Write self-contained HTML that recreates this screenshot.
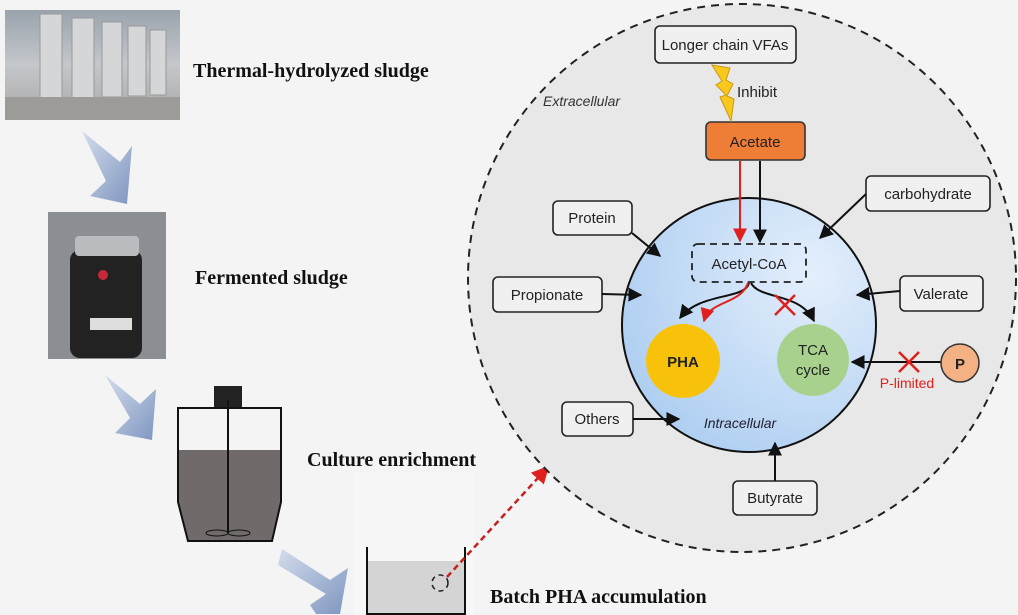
<!DOCTYPE html>
<html><head><style>
html,body{margin:0;padding:0;background:#f4f4f4;}
svg{display:block}
.b{font-family:"Liberation Sans",sans-serif;font-size:15px;fill:#222;}
.t{font-family:"Liberation Serif",serif;font-weight:bold;font-size:20px;fill:#111;}
</style></head><body>
<svg width="1018" height="615" viewBox="0 0 1018 615" xmlns="http://www.w3.org/2000/svg">
<defs>
<radialGradient id="cell" cx="0.75" cy="0.3" r="0.9">
<stop offset="0" stop-color="#e4effc"/><stop offset="1" stop-color="#a9cbf0"/></radialGradient>
<linearGradient id="arr" x1="0" y1="0" x2="1" y2="1"><stop offset="0" stop-color="#d3dcec"/><stop offset="1" stop-color="#7f96c0"/></linearGradient>
<linearGradient id="img1" x1="0" y1="0" x2="0" y2="1"><stop offset="0" stop-color="#9aa3ad"/><stop offset="0.5" stop-color="#c4c7cb"/><stop offset="1" stop-color="#a8a8a6"/></linearGradient>
<marker id="ak" viewBox="0 0 10 10" refX="9" refY="5" markerWidth="7" markerHeight="7" orient="auto"><path d="M0,0 L10,5 L0,10 z" fill="#111"/></marker>
<marker id="ar" viewBox="0 0 10 10" refX="9" refY="5" markerWidth="7" markerHeight="7" orient="auto"><path d="M0,0 L10,5 L0,10 z" fill="#e0201c"/></marker>
</defs>
<rect width="1018" height="615" fill="#f4f4f4"/>
<!-- photos -->
<rect x="5" y="10" width="175" height="110" fill="url(#img1)"/>
<g fill="#d4d6d8" stroke="#999" stroke-width="1">
<rect x="40" y="14" width="22" height="85"/><rect x="72" y="18" width="22" height="80"/><rect x="102" y="22" width="20" height="75"/><rect x="128" y="26" width="18" height="70"/><rect x="150" y="30" width="16" height="65"/></g>
<rect x="5" y="97" width="175" height="23" fill="#9d9b98"/>
<rect x="48" y="212" width="118" height="147" fill="#8b8f93"/>
<rect x="70" y="250" width="72" height="108" rx="10" fill="#222"/>
<rect x="75" y="236" width="64" height="20" rx="4" fill="#b9bcbf"/>
<circle cx="103" cy="275" r="5" fill="#c8283a"/>
<rect x="90" y="318" width="42" height="12" fill="#ddd"/>
<!-- blue arrows -->
<polygon points="82,131 120,162 132,146 127,204 90,196 106,181" fill="url(#arr)"/>
<polygon points="105,375 140,404 156,389 152,440 115,433 130,418" fill="url(#arr)"/>
<polygon points="282,549 330,580 348,568 340,614 316,614 310,605 326,594 278,565" fill="url(#arr)"/>
<!-- reactor -->
<rect x="214" y="386" width="28" height="22" fill="#222"/>
<path d="M178,450 L281,450 L281,502 L272,541 L188,541 L178,502 Z" fill="#716a6a"/>
<path d="M178,408 L281,408 L281,502 L272,541 L188,541 L178,502 Z" fill="none" stroke="#111" stroke-width="2"/>
<line x1="228" y1="400" x2="228" y2="533" stroke="#111" stroke-width="2"/>
<ellipse cx="217" cy="533" rx="11" ry="3" fill="none" stroke="#111"/><ellipse cx="239" cy="533" rx="11" ry="3" fill="none" stroke="#111"/>
<!-- batch -->
<rect x="355" y="472" width="118" height="143" fill="#f7f7f7"/>
<rect x="368" y="561" width="97" height="54" fill="#d4d4d4"/>
<path d="M367,547 L367,614 L465,614 L465,547" fill="none" stroke="#111" stroke-width="2"/>
<circle cx="440" cy="583" r="8" fill="none" stroke="#222" stroke-width="1.5" stroke-dasharray="5,4"/>
<line x1="447" y1="577" x2="548" y2="467" stroke="#c4201c" stroke-width="2.5" stroke-dasharray="6,4" marker-end="url(#ar)"/>
<text class="t" x="193" y="77">Thermal-hydrolyzed sludge</text>
<text class="t" x="195" y="284">Fermented sludge</text>
<text class="t" x="307" y="466">Culture enrichment</text>
<text class="t" x="490" y="603">Batch PHA accumulation</text>
<!-- big circle -->
<circle cx="742" cy="278" r="274" fill="#e8e8e8" stroke="#222" stroke-width="2" stroke-dasharray="8,6"/>
<text x="543" y="106" font-family="Liberation Sans,sans-serif" font-style="italic" font-size="14" fill="#333">Extracellular</text>
<circle cx="749" cy="325" r="127" fill="url(#cell)" stroke="#111" stroke-width="2"/>
<!-- boxes -->
<g fill="#f0f0f0" stroke="#222" stroke-width="1.6">
<rect x="655" y="26" width="141" height="37" rx="5"/>
<rect x="866" y="176" width="124" height="35" rx="5"/>
<rect x="553" y="201" width="79" height="34" rx="5"/>
<rect x="493" y="277" width="109" height="35" rx="5"/>
<rect x="900" y="276" width="83" height="35" rx="5"/>
<rect x="562" y="402" width="71" height="34" rx="5"/>
<rect x="733" y="481" width="84" height="34" rx="5"/>
</g>
<rect x="706" y="122" width="99" height="38" rx="5" fill="#ee7d35" stroke="#333" stroke-width="1.6"/>
<rect x="692" y="244" width="114" height="38" rx="6" fill="none" stroke="#222" stroke-width="1.8" stroke-dasharray="7,5"/>
<polygon points="712,65 730,68 726,80 733,84 727,96 734,99 731,121 720,97 726,95 716,85 722,81" fill="#f8c81c" stroke="#c99a10" stroke-width="1"/>
<text class="b" x="725" y="50" text-anchor="middle">Longer chain VFAs</text>
<text class="b" x="737" y="97" font-size="13">Inhibit</text>
<text class="b" x="755" y="147" text-anchor="middle" font-size="16">Acetate</text>
<text class="b" x="749" y="269" text-anchor="middle">Acetyl-CoA</text>
<text class="b" x="928" y="199" text-anchor="middle">carbohydrate</text>
<text class="b" x="592" y="223" text-anchor="middle">Protein</text>
<text class="b" x="547" y="300" text-anchor="middle">Propionate</text>
<text class="b" x="941" y="299" text-anchor="middle">Valerate</text>
<text class="b" x="597" y="424" text-anchor="middle">Others</text>
<text class="b" x="775" y="503" text-anchor="middle">Butyrate</text>
<text x="740" y="428" text-anchor="middle" font-family="Liberation Sans,sans-serif" font-style="italic" font-size="14" fill="#223">Intracellular</text>
<!-- arrows -->
<g stroke="#111" stroke-width="2" fill="none" marker-end="url(#ak)">
<line x1="760" y1="161" x2="760" y2="242"/>
<line x1="866" y1="194" x2="820" y2="238"/>
<line x1="632" y1="233" x2="660" y2="256"/>
<line x1="602" y1="294" x2="641" y2="295"/>
<line x1="900" y1="291" x2="857" y2="295"/>
<line x1="633" y1="419" x2="679" y2="419"/>
<line x1="775" y1="481" x2="775" y2="443"/>
<line x1="941" y1="362" x2="852" y2="362"/>
<path d="M749,283 C745,300 700,292 680,318"/>
<path d="M751,283 C760,300 800,292 814,321"/>
</g>
<path d="M748,283 C740,305 710,300 704,321" stroke="#e0201c" stroke-width="2" fill="none" marker-end="url(#ar)"/>
<line x1="740" y1="161" x2="740" y2="241" stroke="#e0201c" stroke-width="2" marker-end="url(#ar)"/>
<circle cx="683" cy="361" r="37" fill="#f9c20a"/>
<circle cx="813" cy="360" r="36" fill="#a9d18e"/>
<circle cx="960" cy="363" r="19" fill="#f4b183" stroke="#333" stroke-width="1.5"/>
<text class="b" x="683" y="367" text-anchor="middle" font-weight="bold" font-size="16">PHA</text>
<text class="b" x="813" y="355" text-anchor="middle" font-size="16">TCA</text>
<text class="b" x="813" y="375" text-anchor="middle" font-size="16">cycle</text>
<text class="b" x="960" y="369" text-anchor="middle" font-weight="bold">P</text>
<text x="907" y="388" text-anchor="middle" font-family="Liberation Sans,sans-serif" font-size="14" fill="#e0201c">P-limited</text>
<g stroke="#e0201c" stroke-width="2.5">
<line x1="775" y1="295" x2="795" y2="315"/><line x1="795" y1="295" x2="775" y2="315"/>
<line x1="899" y1="352" x2="919" y2="372"/><line x1="919" y1="352" x2="899" y2="372"/>
</g>
</svg>
</body></html>
